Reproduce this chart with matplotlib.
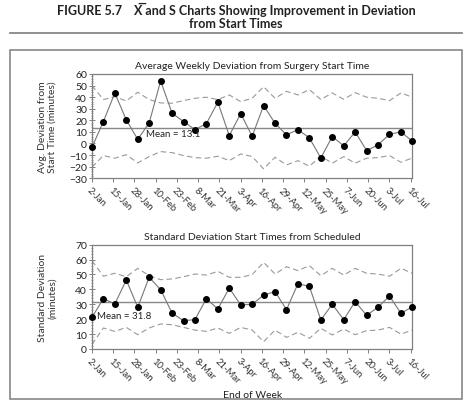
import matplotlib
matplotlib.use("Agg")
import matplotlib.pyplot as plt
import numpy as np
import pandas as pd
from matplotlib.ticker import MultipleLocator
from matplotlib.lines import Line2D
from matplotlib.patches import Rectangle

plt.rcParams['font.family'] = ['Lato', 'DejaVu Sans']

# ---------------- data ----------------
week_start = '2001-01-02'
n_weeks = 29
tick_labels = ['2-Jan', '15-Jan', '28-Jan', '10-Feb', '23-Feb', '8-Mar', '21-Mar', '3-Apr',
               '16-Apr', '29-Apr', '12-May', '25-May', '7-Jun', '20-Jun', '3-Jul', '16-Jul']

xbar = [-3.3, 18.9, 43.6, 20.3, 3.6, 17.7, 54.0, 26.1, 18.9, 12.0, 17.2, 35.6, 6.8, 25.8,
        6.2, 32.7, 17.4, 7.4, 12.0, 4.8, -12.5, 6.0, -2.1, 10.0, -6.1, -1.2, 8.0, 10.0, 1.9]
xbar_ucl = [50.0, 37.9, 40.4, 36.7, 44.2, 37.9, 35.0, 34.7, 37.0, 39.0, 39.9, 37.9, 41.9, 36.1,
            39.0, 49.0, 39.0, 45.0, 41.9, 46.5, 37.9, 43.6, 38.1, 43.9, 39.9, 39.0, 37.0, 43.6, 39.9]
xbar_lcl = [-20.5, -10.4, -12.7, -9.6, -16.8, -11.3, -7.0, -7.9, -10.4, -12.2, -12.7, -11.0, -14.8, -9.0,
            -11.3, -21.9, -11.9, -18.5, -14.8, -19.6, -11.0, -17.0, -11.3, -17.0, -12.7, -12.2, -10.4, -16.2, -12.5]
xbar_mean = 13.1

sdev = [21.2, 33.8, 30.2, 46.3, 28.0, 48.1, 39.8, 24.1, 19.0, 19.7, 33.8, 26.8, 40.9, 29.5,
        30.0, 36.2, 38.5, 26.4, 43.8, 42.0, 19.5, 30.0, 19.7, 31.8, 22.6, 28.0, 35.6, 23.9, 28.4]
s_ucl = [59.3, 48.8, 50.8, 48.5, 54.1, 49.2, 46.5, 47.0, 48.5, 50.3, 49.6, 52.1, 48.1, 48.1,
         49.9, 58.1, 50.3, 55.2, 52.6, 55.9, 49.2, 54.1, 49.6, 54.1, 50.8, 50.3, 48.8, 54.1, 50.8]
s_lcl = [3.0, 14.1, 11.8, 14.5, 9.6, 14.1, 16.8, 16.3, 14.5, 12.7, 11.8, 14.1, 10.5, 14.5,
         12.7, 4.9, 12.7, 7.8, 11.2, 7.2, 13.9, 9.4, 13.4, 9.6, 12.3, 12.7, 14.5, 10.0, 12.7]
s_mean = 31.8

weeks = pd.date_range(week_start, periods=n_weeks, freq='7D')
tick_dates = pd.date_range(week_start, periods=len(tick_labels), freq='13D')

# ---------------- figure ----------------
fig = plt.figure(figsize=(4.74, 4.14), dpi=100)

# title
fig.text(0.498, 0.976, 'FIGURE 5.7    X\u0305 and S Charts Showing Improvement in Deviation',
         ha='center', va='center', fontsize=9, fontweight='bold', color='#222222')
fig.text(0.498, 0.942, 'from Start Times', ha='center', va='center',
         fontsize=9, fontweight='bold', color='#222222')
fig.add_artist(Line2D([0.021, 0.975], [0.918, 0.918], transform=fig.transFigure,
                      color='#888888', lw=1.3))
fig.add_artist(Rectangle((0.021, 0.034), 0.954, 0.843, transform=fig.transFigure,
                         fill=False, edgecolor='#888888', lw=1.2))

line_col = '#777777'
dash_col = '#999999'
spine_col = '#808080'


def panel(ax, vals, ucl, lcl, mean, ylim, ystep, title, ylabel, mean_xy):
    ax.plot(weeks, ucl, color=dash_col, lw=0.8, dashes=(5, 3))
    ax.plot(weeks, lcl, color=dash_col, lw=0.8, dashes=(5, 3))
    ax.axhline(mean, color='#888888', lw=1.0)
    ax.plot(weeks, vals, color=line_col, lw=0.8, marker='o', markersize=4.0,
            markerfacecolor='black', markeredgecolor='black', clip_on=False, zorder=5)
    ax.set_xlim(weeks[0], weeks[-1])
    ax.set_ylim(*ylim)
    ax.set_yticks(np.arange(ylim[0], ylim[1] + 0.1, ystep))
    ax.yaxis.set_minor_locator(MultipleLocator(2))
    ax.set_xticks(tick_dates)
    ax.set_xticklabels(tick_labels, rotation=-45, ha='left', va='top',
                       rotation_mode='anchor', fontsize=6.8, color='#333333')
    ax.tick_params(axis='x', direction='out', length=3, width=0.7, color=spine_col, pad=2)
    ax.tick_params(axis='y', which='major', direction='inout', length=4, width=0.7,
                   color=spine_col, labelsize=7.5, labelcolor='#222222', pad=1.5)
    ax.tick_params(axis='y', which='minor', direction='inout', length=2, width=0.5, color=spine_col)
    for s in ax.spines.values():
        s.set_color(spine_col)
        s.set_linewidth(0.9)
    ax.set_title(title, fontsize=7.5, color='#222222', pad=4)
    ax.set_ylabel(ylabel, fontsize=7.5, color='#333333', linespacing=1.05)
    ax.yaxis.set_label_coords(-0.11, 0.5)
    ax.annotate('Mean = %.1f' % mean, xy=(weeks[0], mean), xycoords='data',
                xytext=mean_xy, textcoords='offset points', fontsize=7, color='#222222',
                ha='left', va='top', zorder=6)


ax1 = fig.add_axes([0.194, 0.567, 0.676, 0.252])
panel(ax1, xbar, xbar_ucl, xbar_lcl, xbar_mean, (-30, 60), 10,
      'Average Weekly Deviation from Surgery Start Time',
      'Avg. Deviation from\nStart Time (minutes)', (39, -0.5))

ax2 = fig.add_axes([0.194, 0.1546, 0.676, 0.252])
panel(ax2, sdev, s_ucl, s_lcl, s_mean, (0, 70), 10,
      'Standard Deviation Start Times from Scheduled',
      'Standard Deviation\n(minutes)', (3.5, -6.5))
ax2.set_xlabel('End of Week', fontsize=7.5, color='#222222', labelpad=3)

fig.savefig('out.png', dpi=100)
